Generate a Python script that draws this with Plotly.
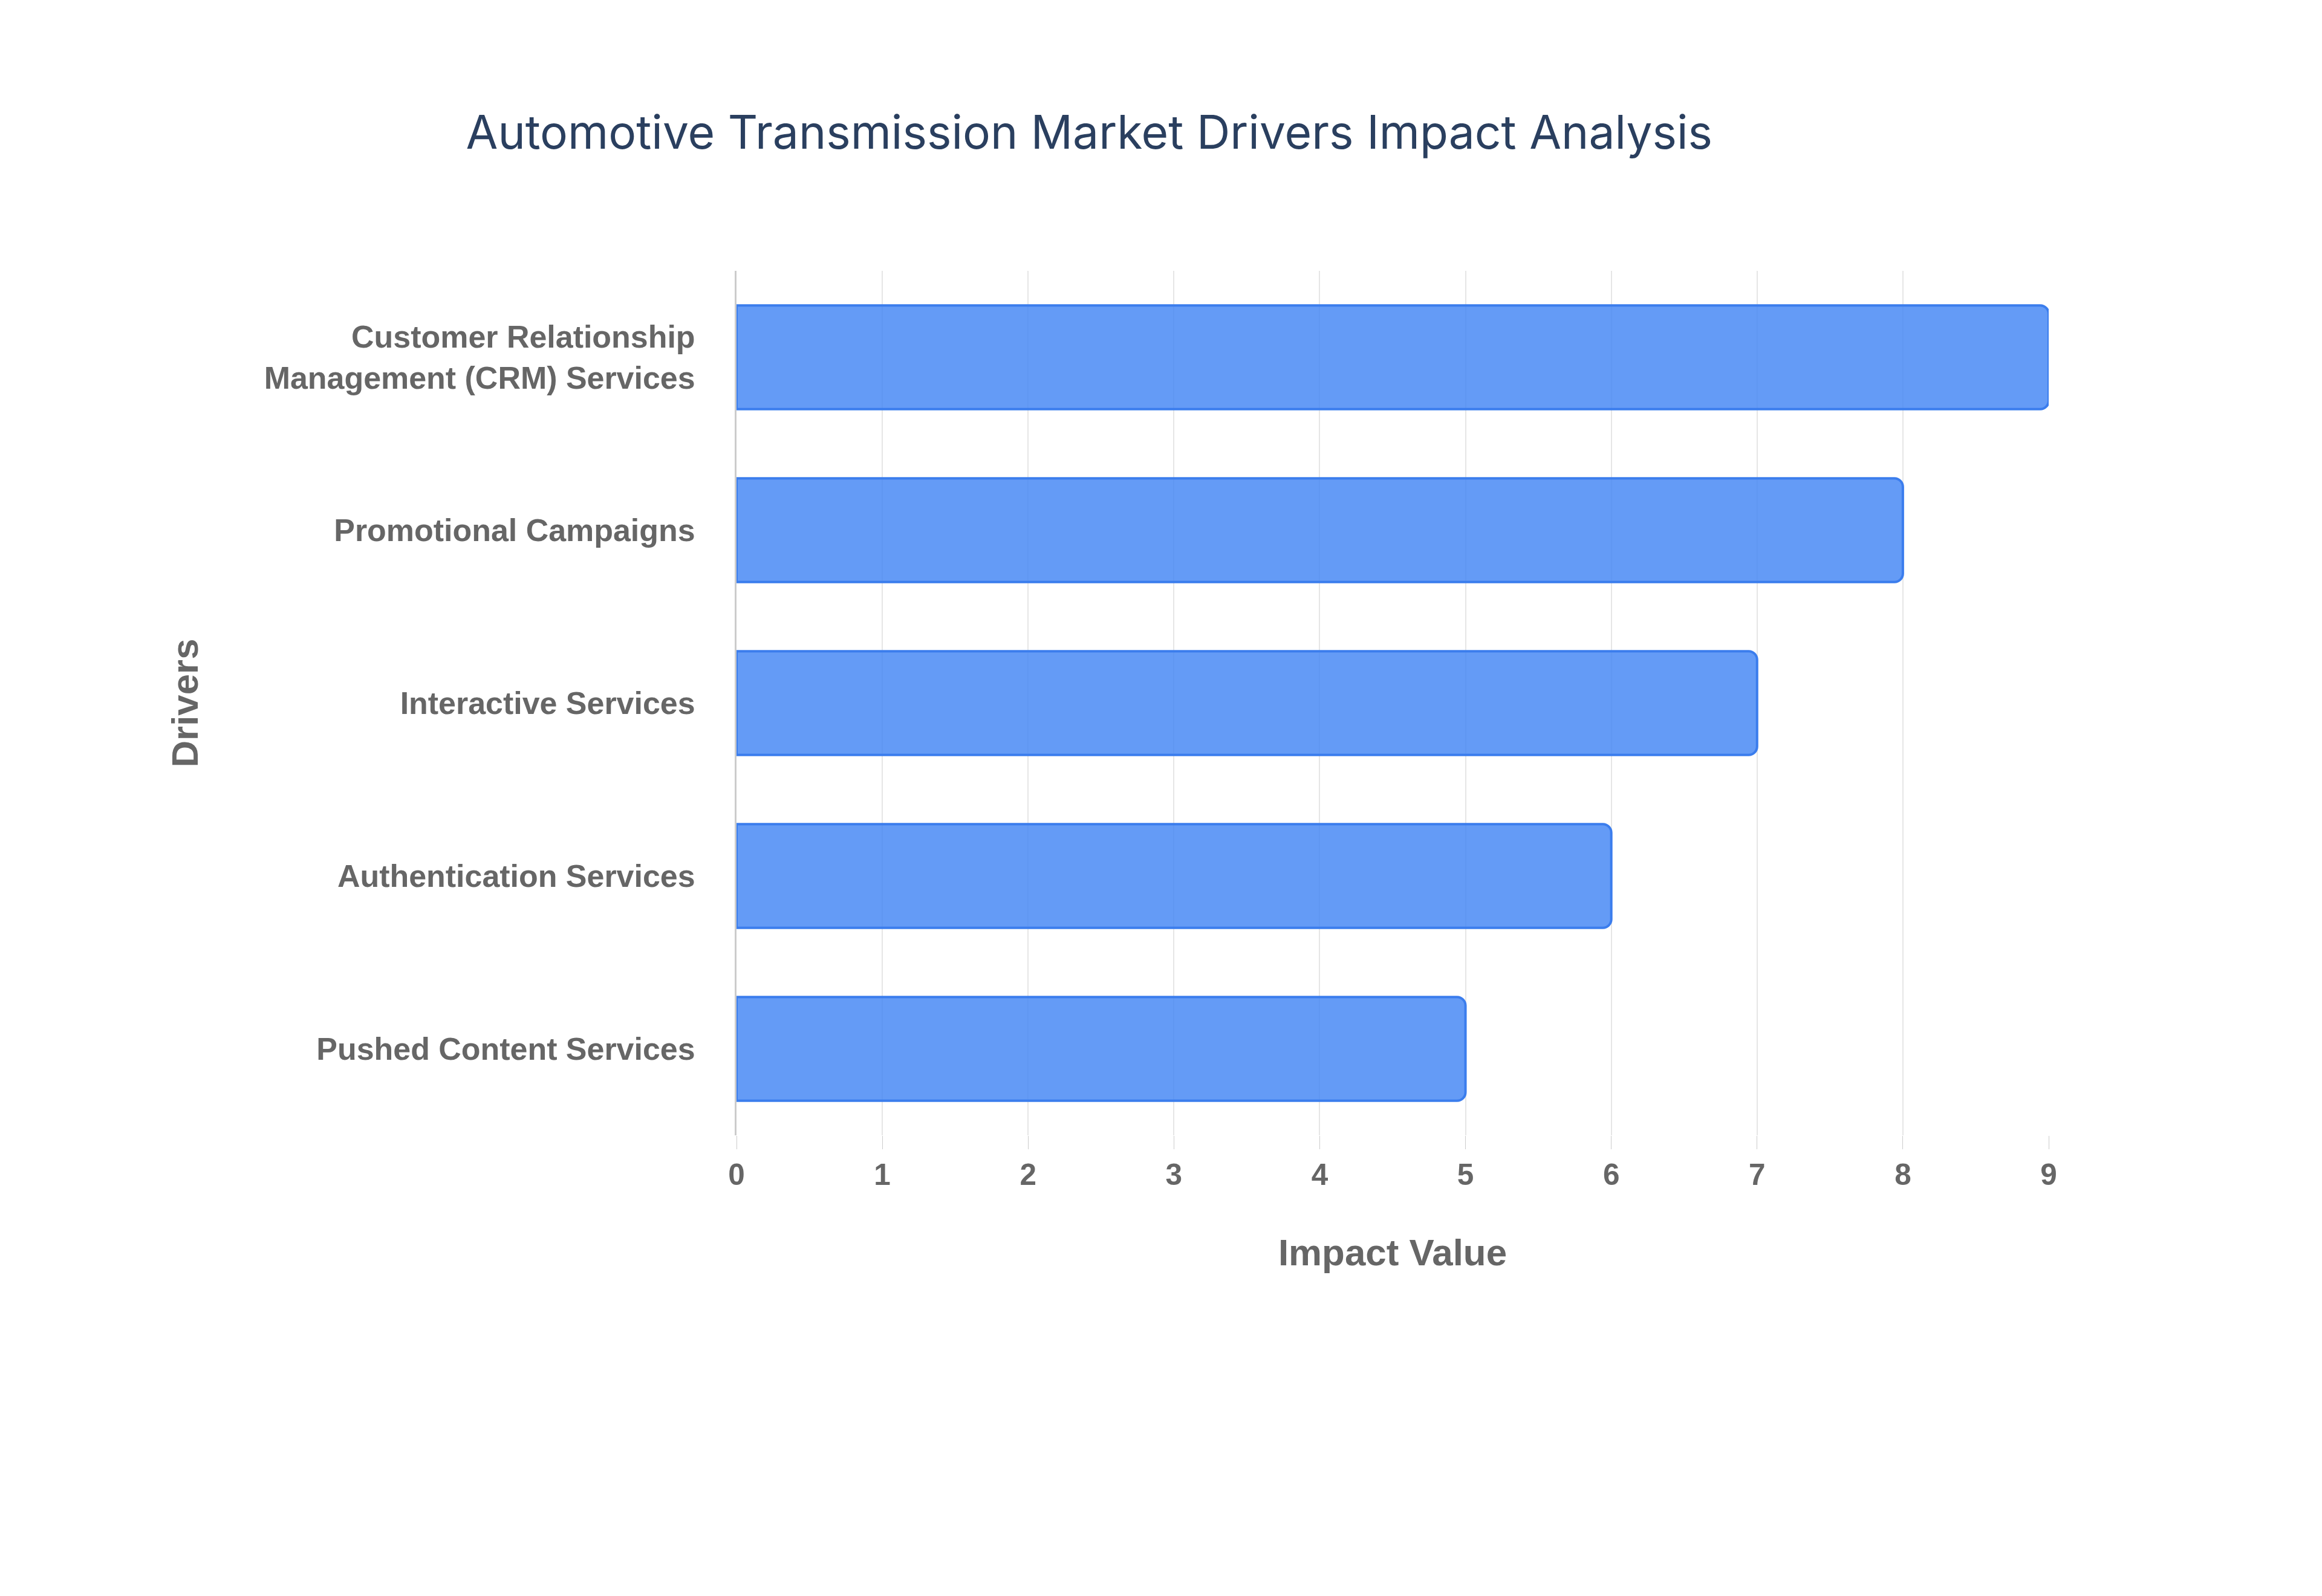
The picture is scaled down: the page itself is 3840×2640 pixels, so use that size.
import plotly.graph_objects as go

drivers = ["Pushed Content Services", "Authentication Services", "Interactive Services",
           "Promotional Campaigns", "Customer Relationship<br>Management (CRM) Services"]
impact = [5, 6, 7, 8, 9]

fig = go.Figure(go.Bar(
    x=impact, y=drivers, orientation="h",
    marker=dict(color="rgba(66,133,244,0.82)", line=dict(color="#3b7ded", width=4), cornerradius=14),
    width=0.6,
))
S = 2.474
fig.update_layout(
    width=3840, height=2640,
    paper_bgcolor="white", plot_bgcolor="white",
    margin=dict(l=1210, r=460, t=440, b=770),
    title=dict(text="Automotive Transmission Market Drivers Impact Analysis",
               x=0.467, xanchor="center", y=0.92, yanchor="middle",
               font=dict(family="Inter", size=31*S, color="#2a3f5f")),
    showlegend=False,
)
fig.update_xaxes(range=[0, 9], dtick=1, showgrid=True, gridcolor="#e6e6e6", gridwidth=2,
                 zeroline=False, ticks="outside", ticklen=22, tickcolor="#cccccc",
                 tickfont=dict(family="Liberation Sans", size=20*S, color="#666666", weight="bold"),
                 title=dict(text="Impact Value", standoff=80,
                            font=dict(family="Liberation Sans", size=25*S, color="#666666", weight="bold")))
fig.update_yaxes(showline=True, linecolor="#cccccc", linewidth=3, showgrid=False,
                 ticks="", ticklabelstandoff=55,
                 tickfont=dict(family="Liberation Sans", size=21*S, color="#666666", weight="bold"),
                 title=dict(text="Drivers", standoff=90,
                            font=dict(family="Liberation Sans", size=25*S, color="#666666", weight="bold")))
fig.write_html("out.html")
